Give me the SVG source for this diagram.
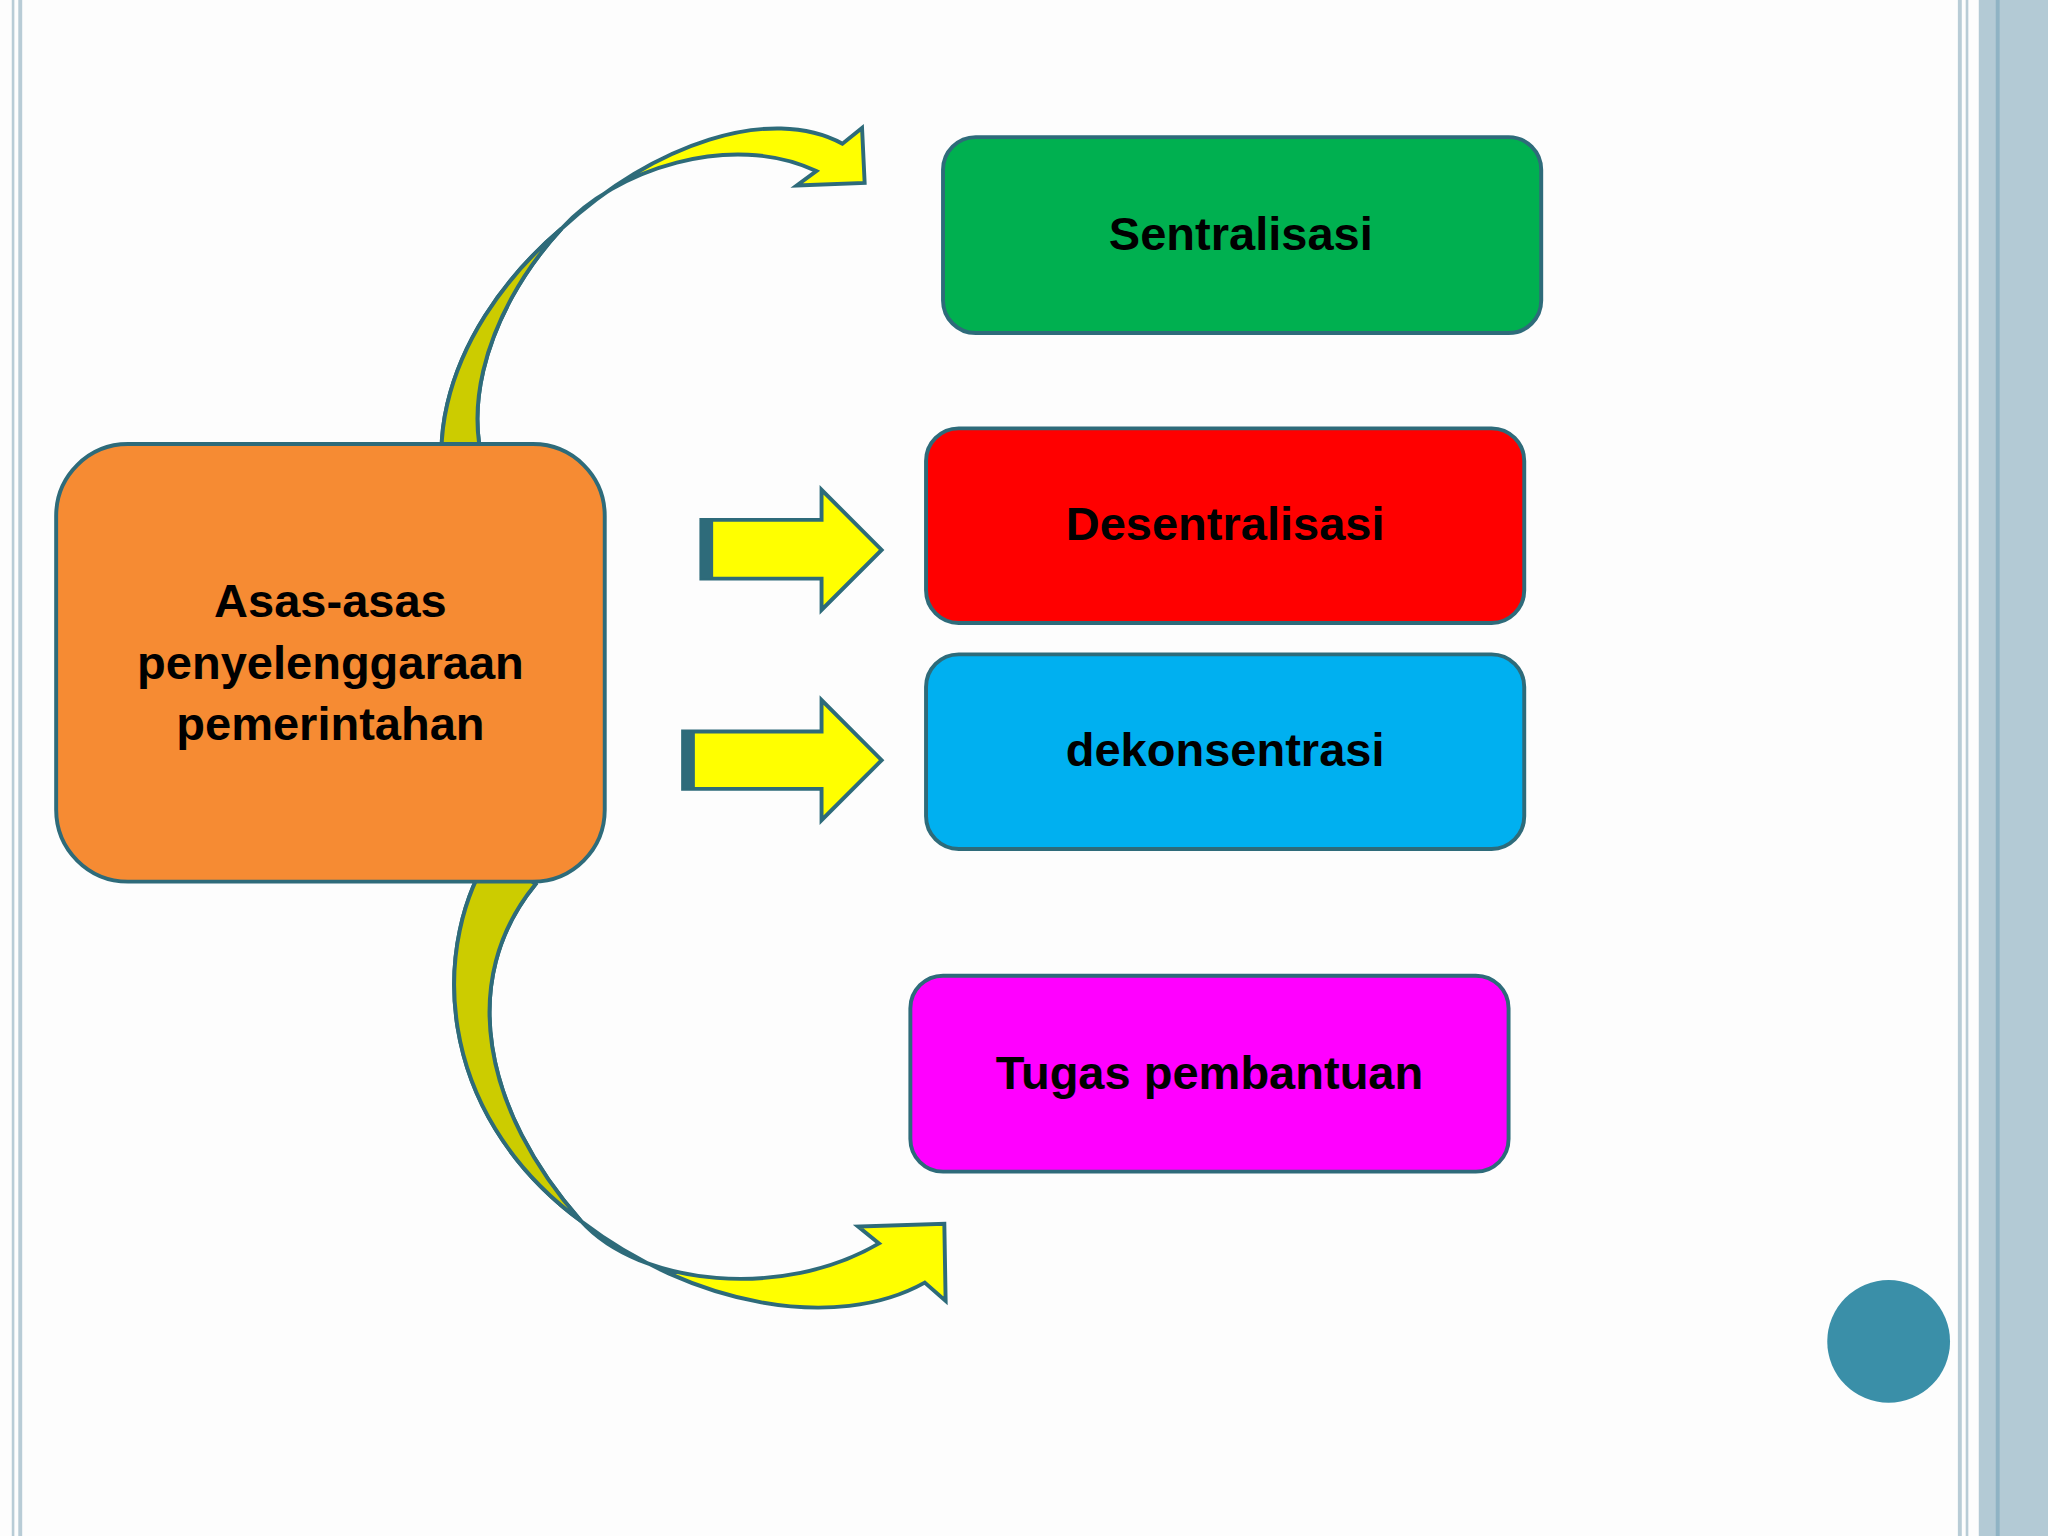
<svg xmlns="http://www.w3.org/2000/svg" width="2048" height="1536" viewBox="0 0 2048 1536">
<style>
.box{stroke:#2e6b7a;stroke-width:3}
.t{font-family:"Liberation Sans",Arial,sans-serif;font-weight:bold;font-size:36px;fill:#000;text-anchor:middle;dominant-baseline:middle}
.arr{fill:#ffff00;stroke:#2e6b7a;stroke-width:3;stroke-linejoin:miter}
.dark{fill:#cccc00;stroke:#2e6b7a;stroke-width:3}
</style>
<rect width="2048" height="1536" fill="#fdfdfd"/>
<g transform="scale(1.30612)">
<g id="frame">
<rect x="9" y="0" width="2" height="1176" fill="#b8ccd6"/>
<rect x="14" y="0" width="3" height="1176" fill="#b8ccd6"/>
<rect x="1499" y="0" width="3" height="1176" fill="#b8ccd6"/>
<rect x="1505" y="0" width="2" height="1176" fill="#b8ccd6"/>
<rect x="1515" y="0" width="53" height="1176" fill="#b3cad5"/>
<rect x="1528" y="0" width="3" height="1176" fill="#8fb3c4"/>
<circle cx="1446" cy="1027" r="47" fill="#3a8fa8"/>
</g>
<g id="connectors">
<path class="arr" d="M360,408 C320,370 330,260 430,175 C500,110 590,80 645,110 L660,98 L662,140 L610,142 L625,131 C560,100 470,130 430,175 C370,240 345,330 385,386 Z"/>
<path class="dark" d="M360,408 C320,370 330,260 430,175 C370,240 345,330 385,386 Z"/>
<path class="arr" d="M378,650 C330,720 330,850 445,935 C530,1000 640,1020 708,982 L724,996 L723,937 L657,939 L673,952 C600,995 490,985 445,935 C370,850 350,750 410,677 Z"/>
<path class="dark" d="M378,650 C330,720 330,850 445,935 C370,850 350,750 410,677 Z"/>
<path class="arr" d="M537,398 L629,398 L629,375 L675,421 L629,467 L629,443 L537,443 Z"/>
<rect x="537" y="398" width="9" height="45" fill="#2e6b7a"/>
<path class="arr" d="M523,560 L629,560 L629,536 L675,582 L629,628 L629,604 L523,604 Z"/>
<rect x="523" y="560" width="9" height="44" fill="#2e6b7a"/>
</g>
<g id="asas">
<rect class="box" x="43" y="340" width="420" height="335" rx="55" fill="#f68b33"/>
<text class="t" x="253" y="463">Asas-asas</text>
<text class="t" x="253" y="510">penyelenggaraan</text>
<text class="t" x="253" y="557">pemerintahan</text>
</g>
<g id="sentralisasi">
<rect class="box" x="722" y="105" width="458" height="150" rx="25" fill="#00b050"/>
<text class="t" x="950" y="182">Sentralisasi</text>
</g>
<g id="desentralisasi">
<rect class="box" x="709" y="328" width="458" height="149" rx="25" fill="#ff0000"/>
<text class="t" x="938" y="404">Desentralisasi</text>
</g>
<g id="dekonsentrasi">
<rect class="box" x="709" y="501" width="458" height="149" rx="25" fill="#00b0f0"/>
<text class="t" x="938" y="577">dekonsentrasi</text>
</g>
<g id="tugas">
<rect class="box" x="697" y="747" width="458" height="150" rx="25" fill="#ff00ff"/>
<text class="t" x="926" y="824">Tugas pembantuan</text>
</g>
</g>
</svg>
